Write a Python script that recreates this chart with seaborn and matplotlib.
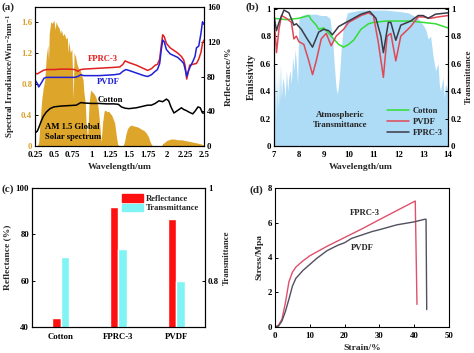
import numpy as np
import pandas as pd
import matplotlib
matplotlib.use("Agg")
import matplotlib.pyplot as plt
import seaborn as sns
from matplotlib.lines import Line2D
from matplotlib.patches import Patch

# ---------------- data ----------------
# (a) AM1.5 solar spectrum (W m-2 nm-1)
solar_wl = [0.28, 0.30, 0.32, 0.34, 0.36, 0.38, 0.40, 0.42, 0.43, 0.44, 0.46, 0.48, 0.50, 0.52, 0.53,
            0.55, 0.57, 0.59, 0.60, 0.62, 0.64, 0.66, 0.68, 0.69, 0.70, 0.72, 0.74, 0.76, 0.77, 0.79,
            0.81, 0.83, 0.85, 0.87, 0.89, 0.90, 0.92, 0.93, 0.95, 0.97, 0.99, 1.01, 1.03, 1.05, 1.07,
            1.09, 1.11, 1.13, 1.15, 1.17, 1.19, 1.21, 1.23, 1.25, 1.27, 1.29, 1.31, 1.33, 1.35, 1.38,
            1.42, 1.44, 1.46, 1.48, 1.50, 1.53, 1.56, 1.60, 1.63, 1.66, 1.70, 1.73, 1.76, 1.78, 1.80,
            1.82, 1.93, 1.95, 1.98, 2.00, 2.03, 2.06, 2.10, 2.15, 2.20, 2.25, 2.30, 2.35, 2.40, 2.45, 2.50]
solar_irr = [0.0, 0.05, 0.35, 0.6, 0.75, 0.85, 1.15, 1.3, 1.1, 1.45, 1.6, 1.58, 1.62, 1.5, 1.6,
             1.55, 1.52, 1.45, 1.5, 1.42, 1.45, 1.38, 1.4, 1.2, 1.35, 1.2, 1.25, 0.6, 1.2, 1.15,
             1.05, 1.0, 0.98, 0.92, 0.85, 0.7, 0.55, 0.3, 0.1, 0.55, 0.72, 0.7, 0.68, 0.65, 0.6,
             0.5, 0.3, 0.05, 0.3, 0.45, 0.46, 0.44, 0.45, 0.42, 0.4, 0.35, 0.3, 0.15, 0.02, 0.0,
             0.0, 0.05, 0.15, 0.22, 0.25, 0.27, 0.26, 0.25, 0.24, 0.22, 0.2, 0.17, 0.12, 0.06, 0.02,
             0.0, 0.0, 0.03, 0.05, 0.07, 0.08, 0.09, 0.09, 0.08, 0.08, 0.07, 0.06, 0.05, 0.04, 0.03, 0.01]

fprc_wl = [0.25, 0.28, 0.32, 0.36, 0.40, 0.5, 0.6, 0.7, 0.78, 0.82, 0.86, 0.9, 1.0, 1.1, 1.2, 1.3, 1.38,
           1.42, 1.45, 1.5, 1.6, 1.7, 1.75, 1.8, 1.85, 1.88, 1.91, 1.93, 1.95, 1.97, 2.0, 2.05, 2.1,
           2.15, 2.2, 2.23, 2.25, 2.27, 2.29, 2.31, 2.35, 2.4, 2.43, 2.46, 2.48, 2.5]
fprc_ref = [84, 83, 85, 87, 88, 88, 88.5, 88.5, 88, 86, 88, 88.5, 89, 89.5, 90, 90.5, 91,
            94, 98, 96, 93, 89, 87, 89, 93, 94, 100, 115, 128, 126, 118, 113, 110,
            107, 103, 99, 92, 77, 85, 93, 94, 95, 100, 108, 118, 122]

pvdf_wl = [0.25, 0.28, 0.3, 0.33, 0.37, 0.4, 0.5, 0.6, 0.7, 0.78, 0.82, 0.86, 0.9, 1.0, 1.1, 1.2, 1.3,
           1.38, 1.42, 1.46, 1.5, 1.6, 1.7, 1.75, 1.8, 1.85, 1.88, 1.91, 1.93, 1.95, 1.97, 2.0, 2.05,
           2.1, 2.15, 2.2, 2.23, 2.25, 2.27, 2.29, 2.32, 2.35, 2.38, 2.4, 2.43, 2.46, 2.48, 2.5]
pvdf_ref = [76, 72, 68, 72, 78, 79, 79, 79, 79, 79, 80, 82, 81, 81, 81, 81.5, 82,
            83, 86, 88, 87, 84, 81, 80, 82, 86, 88, 95, 110, 122, 120, 111, 106,
            104, 102, 98, 95, 88, 80, 86, 92, 97, 103, 113, 115, 130, 143, 140]

cotton_wl = [0.25, 0.28, 0.3, 0.33, 0.36, 0.4, 0.45, 0.5, 0.6, 0.7, 0.8, 0.84, 0.86, 0.9, 1.0, 1.1, 1.2,
             1.3, 1.36, 1.4, 1.45, 1.5, 1.6, 1.65, 1.7, 1.75, 1.8, 1.85, 1.9, 1.95, 2.0, 2.03, 2.06,
             2.1, 2.15, 2.2, 2.23, 2.26, 2.3, 2.35, 2.38, 2.42, 2.45, 2.48, 2.5]
cotton_ref = [15, 17, 21, 28, 34, 39, 43, 45, 46, 46.5, 47, 49, 50, 49.5, 49, 49, 48.5,
              48.5, 48, 45, 43.5, 43, 44, 45, 46, 47, 47, 49, 52, 51, 54, 52, 45,
              38, 41, 44, 42, 41, 39, 37, 40, 45, 44, 38, 38]

a_xticks = [0.25, 0.5, 0.75, 1.0, 1.25, 1.5, 1.75, 2.0, 2.25, 2.5]
a_xticklabels = ["0.25", "0.5", "0.75", "1", "1.25", "1.5", "1.75", "2", "2.25", "2.5"]

# (b) atmospheric transmittance and emissivity
atm_wl = [7.00, 7.03, 7.06, 7.09, 7.12, 7.15, 7.18, 7.22, 7.26, 7.30, 7.35, 7.40, 7.45, 7.50, 7.55,
          7.60, 7.65, 7.70, 7.75, 7.80, 7.85, 7.90, 7.95, 8.00, 8.10, 8.3, 8.5, 8.7, 8.9, 9.1, 9.25,
          9.35, 9.42, 9.50, 9.55, 9.60, 9.65, 9.70, 9.78, 9.85, 9.95, 10.2, 10.5, 11.0, 11.5, 12.0,
          12.4, 12.6, 12.8, 13.0, 13.1, 13.2, 13.3, 13.4, 13.5, 13.6, 13.65, 13.7, 13.8, 13.85, 13.9, 14.0]
atm_tr = [0.85, 0.3, 0.6, 0.2, 0.5, 0.25, 0.55, 0.3, 0.6, 0.35, 0.5, 0.45, 0.35, 0.55, 0.4,
          0.5, 0.55, 0.45, 0.65, 0.55, 0.7, 0.6, 0.45, 0.92, 0.95, 0.96, 0.96, 0.96, 0.95, 0.95, 0.93,
          0.8, 0.6, 0.42, 0.38, 0.45, 0.55, 0.7, 0.85, 0.9, 0.97, 0.98, 0.99, 0.99, 0.99, 0.98,
          0.97, 0.95, 0.93, 0.88, 0.85, 0.78, 0.8, 0.65, 0.55, 0.6, 0.45, 0.4, 0.5, 0.35, 0.45, 0.4]

cot_b_wl = [7.0, 7.5, 8.0, 8.2, 8.4, 8.5, 8.7, 8.8, 9.0, 9.2, 9.4, 9.6, 9.8, 10.0, 10.2, 10.5, 10.8,
            11.0, 11.5, 12.0, 12.5, 13.0, 13.5, 14.0]
cot_b_em = [0.93, 0.92, 0.93, 0.94, 0.95, 0.92, 0.88, 0.85, 0.86, 0.82, 0.78, 0.74, 0.72, 0.74, 0.77,
            0.85, 0.89, 0.90, 0.91, 0.91, 0.91, 0.90, 0.89, 0.86]

pvdf_b_wl = [7.0, 7.05, 7.1, 7.2, 7.3, 7.5, 7.7, 7.8, 7.9, 8.0, 8.2, 8.4, 8.55, 8.7, 8.9, 9.1, 9.3,
             9.5, 9.8, 10.0, 10.5, 10.8, 11.0, 11.2, 11.4, 11.55, 11.7, 11.9, 12.1, 12.5, 12.8, 13.0,
             13.3, 13.6, 14.0]
pvdf_b_em = [0.88, 0.82, 0.68, 0.85, 0.95, 0.93, 0.9, 0.78, 0.8, 0.76, 0.74, 0.62, 0.52, 0.62, 0.78,
             0.82, 0.73, 0.8, 0.85, 0.9, 0.95, 0.97, 0.95, 0.75, 0.5, 0.8, 0.82, 0.62, 0.8, 0.87, 0.94,
             0.94, 0.93, 0.94, 0.95]

fprc_b_wl = [7.0, 7.1, 7.2, 7.4, 7.6, 7.8, 7.9, 8.1, 8.3, 8.55, 8.8, 9.0, 9.2, 9.35, 9.6, 10.0, 10.5,
             10.85, 11.1, 11.3, 11.4, 11.6, 11.7, 11.9, 12.1, 12.5, 12.8, 13.0, 13.2, 13.5, 14.0]
fprc_b_em = [0.95, 0.84, 0.9, 0.99, 0.97, 0.88, 0.89, 0.85, 0.79, 0.72, 0.83, 0.85, 0.84, 0.81, 0.87,
             0.91, 0.96, 0.98, 0.93, 0.8, 0.68, 0.9, 0.9, 0.77, 0.88, 0.91, 0.95, 0.95, 0.93, 0.96, 0.97]

# (c) bars
samples = ["Cotton", "FPRC-3", "PVDF"]
reflectance = [44, 92, 86.5]
transmittance = [0.850, 0.869, 0.800]

# (d) stress-strain
fprc_strain = [0, 1, 2, 3, 4, 5, 6, 8, 10, 15, 20, 25, 30, 35, 40, 40.3, 40.8]
fprc_stress = [0, 0.1, 0.45, 1.4, 2.6, 3.15, 3.45, 3.8, 4.1, 4.65, 5.15, 5.65, 6.18, 6.7, 7.22, 7.25, 1.3]
pvdf_strain = [0, 1, 2, 3, 4, 5, 6, 8, 10, 12, 15, 18, 20, 22, 25, 28, 30, 35, 40, 43, 43.4, 43.6]
pvdf_stress = [0, 0.05, 0.35, 0.9, 1.6, 2.35, 2.8, 3.25, 3.6, 3.95, 4.4, 4.7, 4.85, 5.1, 5.3, 5.5, 5.6,
               5.88, 6.05, 6.2, 6.2, 1.0]

# ---------------- style ----------------
sns.set_theme(style="ticks")
plt.rcParams["font.family"] = ["Liberation Serif", "DejaVu Serif"]
plt.rcParams["font.weight"] = "bold"
plt.rcParams["axes.labelweight"] = "bold"
plt.rcParams["mathtext.fontset"] = "custom"
plt.rcParams["mathtext.rm"] = "Liberation Serif:bold"
plt.rcParams["mathtext.it"] = "Liberation Serif:bold"
plt.rcParams["mathtext.bf"] = "Liberation Serif:bold"
plt.rcParams["axes.linewidth"] = 0.8
plt.rcParams["axes.edgecolor"] = "black"

TICK = 6.3

fig = plt.figure(figsize=(4.74, 3.53), dpi=100)
W, H = 474, 353

def add_ax(l, r, t, b):
    return fig.add_axes([l / W, 1 - b / H, (r - l) / W, (b - t) / H])

def style(ax):
    ax.tick_params(direction="in", length=2.5, width=0.7, labelsize=TICK, pad=2,
                   color="black", labelcolor="black")
    ax.tick_params(which="minor", direction="in", length=1.5, width=0.5)

# ---- (a) ----
axa = add_ax(35, 204, 7, 146)
axa.fill_between(solar_wl, solar_irr, 0, color="#DDA52A", lw=0)
axa.set_xlim(0.25, 2.5)
axa.set_ylim(0, 1.79)
axa.set_yticks([0, 0.4, 0.8, 1.2, 1.6])
axa.set_yticklabels(["0", "0.4", "0.8", "1.2", "1.6"])
axa.set_xticks(a_xticks)
axa.set_xticklabels(a_xticklabels)
style(axa)
axa.tick_params(axis="x", pad=3.5)
axa.tick_params(axis="y", labelcolor="#D9A12A")
axa.set_xlabel("Wavelength/um", fontsize=6.8, labelpad=3)
axa.set_ylabel("Spectral Irradiance/Wm$^{-2}$nm$^{-1}$", fontsize=6.6, labelpad=3)
axa2 = axa.twinx()
sns.lineplot(x=fprc_wl, y=fprc_ref, ax=axa2, color="#E02020", lw=1.1)
sns.lineplot(x=pvdf_wl, y=pvdf_ref, ax=axa2, color="#2020D8", lw=1.1)
sns.lineplot(x=cotton_wl, y=cotton_ref, ax=axa2, color="black", lw=1.1)
axa2.set_ylim(0, 160)
axa2.set_yticks([0, 40, 80, 120, 160])
axa2.set_xlim(0.25, 2.5)
style(axa2)
axa2.set_ylabel("Rrflectance/%", fontsize=6.8, labelpad=3)
axa2.text(0.96, 98, "FPRC-3", color="#E02020", fontsize=6.2, fontweight="bold")
axa2.text(1.07, 71, "PVDF", color="#2020D8", fontsize=6.2, fontweight="bold")
axa2.text(1.09, 50.5, "Cotton", color="black", fontsize=6.2, fontweight="bold")
axa2.text(0.38, 21.5, "AM 1.5 Global", color="black", fontsize=6.2, fontweight="bold", va="center")
axa2.text(0.38, 10, "Solar spectrum", color="black", fontsize=6.2, fontweight="bold", va="center")
fig.text(2 / W, 1 - 7 / H, "(a)", fontsize=8, fontweight="bold", va="center")

# ---- (b) ----
axb = add_ax(274, 448, 8, 146)
axb.fill_between(atm_wl, atm_tr, 0, color="#AEDBF5", lw=0)
sns.lineplot(x=cot_b_wl, y=cot_b_em, ax=axb, color="#33DD33", lw=1.1)
sns.lineplot(x=pvdf_b_wl, y=pvdf_b_em, ax=axb, color="#E04858", lw=1.1)
sns.lineplot(x=fprc_b_wl, y=fprc_b_em, ax=axb, color="#3A3A48", lw=1.1)
axb.set_xlim(7, 14)
axb.set_ylim(0, 1.005)
axb.set_xticks([7, 8, 9, 10, 11, 12, 13, 14])
axb.set_yticks([0, 0.2, 0.4, 0.6, 0.8, 1.0])
axb.set_yticklabels(["0", "0.2", "0.4", "0.6", "0.8", "1"])
style(axb)
axb.tick_params(axis="x", pad=3.5)
axb.set_xlabel("Wavelength/um", fontsize=6.8, labelpad=3)
axb.set_ylabel("Emissivity", fontsize=7.6, labelpad=3)
axb.text(9.67, 0.224, "Atmospheric", fontsize=6.4, fontweight="bold", ha="center", va="center")
axb.text(9.67, 0.152, "Transmittance", fontsize=6.4, fontweight="bold", ha="center", va="center")
hb = [Line2D([], [], color="#33DD33", lw=1.1), Line2D([], [], color="#E04858", lw=1.1),
      Line2D([], [], color="#3A3A48", lw=1.1)]
axb.legend(hb, ["Cotton", "PVDF", "FPRC-3"], loc="lower right", bbox_to_anchor=(1.0, 0.03),
           frameon=False, fontsize=6.2, handlelength=2.5, handletextpad=0.5, labelspacing=0.35,
           borderaxespad=0.2)
axb2 = axb.twinx()
axb2.set_ylim(0, 1.005)
axb2.set_yticks([0, 0.2, 0.4, 0.6, 0.8, 1.0])
axb2.set_yticklabels(["0", "0.2", "0.4", "0.6", "0.8", "1"])
style(axb2)
axb2.set_ylabel("Transmittance", fontsize=6.4, labelpad=2)
fig.text(246 / W, 1 - 7 / H, "(b)", fontsize=8, fontweight="bold", va="center")

# ---- (c) ----
axc = add_ax(32, 205, 188, 327)
levels = ["Reflectance", "Transmittance"]
df_r = pd.DataFrame({"sample": samples * 2,
                     "series": ["Reflectance"] * 3 + ["Transmittance"] * 3,
                     "value": reflectance + [np.nan] * 3})
df_t = pd.DataFrame({"sample": samples * 2,
                     "series": ["Reflectance"] * 3 + ["Transmittance"] * 3,
                     "value": [np.nan] * 3 + transmittance})
pal = {"Reflectance": "#FF1010", "Transmittance": "#80F4F4"}
sns.barplot(data=df_r, x="sample", y="value", hue="series", hue_order=levels, order=samples,
            palette=pal, width=0.3, errorbar=None, ax=axc, legend=False, saturation=1)
axc2 = axc.twinx()
sns.barplot(data=df_t, x="sample", y="value", hue="series", hue_order=levels, order=samples,
            palette=pal, width=0.3, errorbar=None, ax=axc2, legend=False, saturation=1)
axc.set_xlim(-0.5, 2.5)
axc.set_ylim(40, 100)
axc.set_yticks([40, 60, 80, 100])
axc2.set_ylim(0.7, 1.0)
axc2.set_yticks([0.8, 1.0])
axc2.set_yticklabels(["0.8", "1"])
style(axc)
style(axc2)
axc.set_xlabel("")
axc.set_ylabel("Reflectance (%)", fontsize=6.8, labelpad=3)
axc2.set_ylabel("Transmittance", fontsize=6.4, labelpad=3)
axc.tick_params(axis="x", length=0, labelsize=6.3, pad=4)
hc = [Patch(color="#FF1010"), Patch(color="#80F4F4")]
axc2.legend(hc, levels, loc="upper right", bbox_to_anchor=(1.0, 1.0), frameon=False, fontsize=6.2,
            handlelength=2.4, handleheight=1.0, handletextpad=0.3, labelspacing=0.1,
            borderaxespad=0.3)
fig.text(2 / W, 1 - 189 / H, "(c)", fontsize=8, fontweight="bold", va="center")

# ---- (d) ----
axd = add_ax(275, 449, 188, 327)
sns.lineplot(x=fprc_strain, y=fprc_stress, ax=axd, color="#E0506A", lw=1.0, sort=False)
sns.lineplot(x=pvdf_strain, y=pvdf_stress, ax=axd, color="#505060", lw=1.0, sort=False)
axd.set_xlim(0, 50)
axd.set_ylim(0, 8)
axd.set_xticks([0, 10, 20, 30, 40, 50])
axd.set_yticks([0, 2, 4, 6, 8])
style(axd)
axd.tick_params(axis="x", pad=3.5)
axd.set_xlabel("Strain/%", fontsize=6.8, labelpad=3)
axd.set_ylabel("Stress/Mpa", fontsize=6.8, labelpad=3)
axd.text(21.6, 6.56, "FPRC-3", fontsize=6.2, fontweight="bold", va="center")
axd.text(21.8, 4.55, "PVDF", fontsize=6.2, fontweight="bold", va="center")
fig.text(249 / W, 1 - 190 / H, "(d)", fontsize=8, fontweight="bold", va="center")

fig.savefig("out.png", dpi=100)
